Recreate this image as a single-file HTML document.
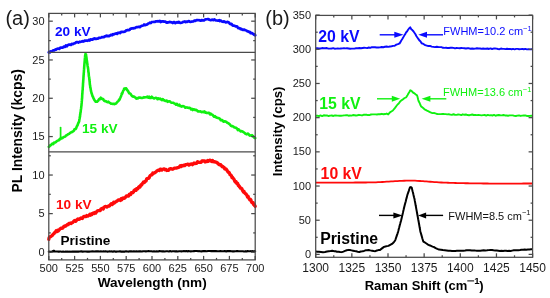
<!DOCTYPE html><html><head><meta charset="utf-8"><style>html,body{margin:0;padding:0;background:#fff;width:550px;height:298px;overflow:hidden}svg{display:block;will-change:transform}text{font-family:"Liberation Sans",sans-serif}</style></head><body><svg width="550" height="298" viewBox="0 0 550 298"><rect width="550" height="298" fill="#fff"/><g fill="none" stroke-linejoin="round" stroke-linecap="round"><path d="M48.80 52.39L49.28 51.99L49.89 52.35L50.63 51.37L51.45 51.60L52.33 51.05L53.25 50.32L54.17 50.50L55.07 49.58L55.92 49.72L56.70 48.98L57.59 48.66L58.46 48.71L59.30 48.86L60.12 47.69L60.94 47.48L61.75 47.66L62.57 47.73L63.40 46.99L64.24 46.49L65.08 46.91L65.91 45.53L66.75 46.25L67.59 45.31L68.42 44.89L69.26 44.60L70.10 44.57L70.93 44.91L71.75 43.88L72.56 44.10L73.37 43.90L74.20 43.31L75.04 43.26L75.91 42.42L76.80 42.17L77.55 42.15L78.32 42.53L79.12 42.04L79.93 41.71L80.75 41.85L81.57 41.51L82.38 41.15L83.18 41.58L83.95 41.30L84.70 40.59L85.59 40.80L86.46 40.57L87.30 40.83L88.13 40.50L88.94 39.82L89.75 40.50L90.57 39.31L91.40 39.50L92.24 39.74L93.08 38.85L93.91 39.09L94.75 38.38L95.59 38.96L96.42 38.90L97.26 38.48L98.10 38.65L98.92 37.77L99.71 38.02L100.49 37.68L101.27 37.43L102.08 37.05L102.92 37.28L103.82 37.17L104.80 36.37L105.52 36.44L106.29 35.54L107.12 36.14L107.99 35.90L108.87 36.14L109.76 35.76L110.64 34.94L111.49 34.89L112.31 35.06L113.08 34.12L113.78 34.50L114.40 34.00L115.59 33.64L116.47 33.30L117.18 33.91L117.85 32.90L118.60 32.80L119.44 32.71L120.28 33.03L121.12 31.82L121.96 32.01L122.80 31.86L123.64 31.99L124.48 31.63L125.33 31.40L126.17 30.42L127.00 30.30L127.85 29.94L128.70 30.27L129.55 30.06L130.36 28.82L131.10 28.61L132.11 28.41L132.98 28.22L134.00 28.28L134.76 28.20L135.59 27.59L136.46 27.03L137.34 27.27L138.20 26.94L139.04 26.90L139.88 27.06L140.72 26.44L141.56 25.92L142.40 25.74L143.24 25.52L144.08 24.49L144.92 25.23L145.76 24.81L146.60 24.65L147.44 24.28L148.28 23.52L149.12 23.26L149.96 22.65L150.80 23.06L151.64 22.18L152.48 22.01L153.33 22.02L154.17 21.83L155.00 21.91L155.81 21.43L156.61 21.25L157.41 21.32L158.23 21.17L159.10 21.44L159.85 21.02L160.62 22.05L161.41 21.76L162.23 21.25L163.09 21.43L164.00 21.62L164.71 21.71L165.45 21.50L166.20 22.48L166.98 22.75L167.79 22.23L168.62 22.34L169.49 21.95L170.40 22.02L171.16 22.34L171.95 22.28L172.78 22.97L173.62 22.19L174.48 22.03L175.35 23.14L176.22 22.62L177.09 22.14L177.96 22.59L178.80 21.93L179.65 22.48L180.52 22.94L181.40 22.72L182.29 22.42L183.17 21.79L184.03 21.81L184.86 21.46L185.66 22.09L186.41 21.71L187.10 21.93L188.10 21.30L188.93 21.11L189.67 21.76L190.38 21.92L191.14 21.70L192.00 21.57L192.71 21.51L193.45 21.34L194.20 20.64L194.98 20.90L195.79 20.62L196.62 20.13L197.49 20.03L198.40 20.24L199.16 20.12L199.95 20.54L200.78 20.75L201.62 20.03L202.48 20.51L203.35 20.47L204.22 20.33L205.09 19.54L205.96 19.31L206.80 19.27L207.65 19.22L208.52 19.22L209.40 19.73L210.29 20.09L211.17 20.05L212.03 19.66L212.86 19.92L213.66 20.15L214.41 19.35L215.10 20.09L216.14 20.50L217.06 20.48L217.88 20.58L218.63 20.40L219.33 20.19L220.00 21.05L221.06 20.69L221.91 21.42L223.00 21.87L223.73 21.34L224.55 21.52L225.43 22.37L226.33 22.32L227.23 21.91L228.10 22.15L228.94 22.53L229.77 23.83L230.61 24.14L231.44 23.80L232.27 25.06L233.10 25.68L233.93 25.71L234.76 25.77L235.59 26.44L236.43 26.36L237.26 26.63L238.10 28.17L238.95 28.14L239.80 28.34L240.65 29.15L241.50 28.87L242.35 29.72L243.20 29.99L244.02 29.57L244.80 29.92L245.58 30.28L246.39 30.53L247.25 31.30L248.20 31.31L248.93 31.82L249.76 31.85L250.64 33.19L251.56 32.94L252.46 33.48L253.31 34.03L254.08 34.77L254.72 34.48L255.20 35.30" stroke="#0a0aff" stroke-width="2.7"/><path d="M48.80 146.80L49.20 146.56L49.71 146.19L50.33 145.05L51.01 145.15L51.75 144.27L52.53 143.48L53.31 144.04L54.08 142.63L54.81 142.54L55.50 142.42L56.10 141.78L56.94 140.91L57.70 140.69L58.41 140.30L59.08 140.21L59.75 138.87L60.41 139.10L61.10 138.25L61.80 137.86L62.50 138.13L63.19 137.34L63.88 136.99L64.58 136.85L65.29 136.63L66.00 135.52L66.74 135.29L67.52 134.64L68.31 134.15L69.09 133.89L69.84 133.06L70.55 132.69L71.20 132.17L71.99 132.26L72.69 131.42L73.31 131.19L73.91 130.78L74.50 129.26L75.09 129.09L75.66 129.03L76.20 128.24L76.71 126.53L77.20 125.67L77.53 125.44L77.85 124.19L78.15 123.65L78.44 122.59L78.71 122.56L78.96 121.83L79.20 121.06L79.37 119.26L79.52 119.27L79.66 118.38L79.79 116.82L79.92 117.00L80.04 116.26L80.16 114.34L80.28 114.50L80.40 112.86L80.51 112.23L80.63 112.23L80.74 111.32L80.85 109.69L80.96 109.36L81.06 108.74L81.17 107.69L81.28 106.62L81.39 105.82L81.50 105.31L81.56 103.68L81.62 103.76L81.68 102.90L81.74 101.60L81.80 101.29L81.86 100.94L81.91 100.00L81.97 98.57L82.03 99.04L82.09 97.92L82.15 97.32L82.21 95.22L82.27 94.56L82.34 93.33L82.40 93.44L82.46 91.79L82.53 90.64L82.60 90.09L82.65 90.07L82.70 89.21L82.75 87.67L82.81 86.75L82.86 87.04L82.91 85.75L82.97 85.12L83.02 83.44L83.08 82.56L83.13 82.60L83.19 81.38L83.25 80.04L83.30 80.40L83.36 79.12L83.42 78.51L83.48 76.66L83.53 76.90L83.59 74.96L83.65 75.25L83.71 73.86L83.77 72.91L83.83 72.42L83.88 72.18L83.94 70.50L84.00 69.58L84.08 69.17L84.15 67.77L84.23 66.57L84.31 65.60L84.39 64.40L84.46 63.57L84.54 62.69L84.62 61.66L84.70 61.30L84.78 59.69L84.86 59.07L84.94 57.75L85.02 57.18L85.10 55.99L85.18 55.65L85.26 54.75L85.34 55.27L85.42 54.64L85.50 53.87L85.67 54.07L85.85 54.97L86.03 54.45L86.20 56.36L86.38 56.96L86.56 58.31L86.74 60.10L86.92 60.77L87.10 62.11L87.21 63.03L87.31 64.14L87.41 63.96L87.52 65.38L87.62 65.95L87.72 66.62L87.82 67.09L87.93 67.82L88.03 68.23L88.14 69.17L88.24 69.95L88.35 71.75L88.47 71.96L88.58 72.72L88.70 73.52L88.80 75.32L88.89 76.13L88.99 76.65L89.09 76.94L89.19 77.73L89.29 78.66L89.39 79.77L89.49 80.23L89.60 81.52L89.70 82.14L89.81 83.99L89.92 84.86L90.03 85.11L90.13 85.51L90.25 87.32L90.36 87.16L90.47 87.96L90.58 88.15L90.70 89.33L90.92 90.60L91.14 91.69L91.37 92.23L91.60 93.55L91.84 93.68L92.08 94.81L92.32 95.29L92.58 96.40L92.83 96.54L93.10 97.13L93.58 98.48L94.09 99.21L94.62 100.42L95.15 100.92L95.65 101.66L96.10 101.82L97.12 101.62L98.10 100.83L98.73 99.59L99.42 98.84L100.13 99.18L100.80 97.71L101.64 98.74L102.46 99.23L103.20 98.96L103.93 100.51L105.00 101.15L105.67 101.10L106.48 101.66L107.39 102.21L108.33 101.70L109.25 102.63L110.10 102.91L111.05 103.64L111.98 103.81L112.87 103.99L113.72 103.72L114.50 104.15L115.37 103.74L116.14 103.51L116.85 102.51L117.50 101.74L118.10 101.25L118.63 100.79L119.12 99.56L119.60 99.67L119.97 98.53L120.32 97.85L120.67 97.02L121.02 96.24L121.40 95.09L121.74 93.58L122.11 93.79L122.48 92.79L122.86 91.54L123.23 90.79L123.60 90.32L124.26 88.53L124.90 88.89L125.70 88.25L126.20 88.35L126.74 89.20L127.33 90.58L127.94 90.65L128.57 92.21L129.20 93.27L129.75 93.18L130.31 93.64L130.88 94.40L131.46 95.30L132.04 95.99L132.62 96.31L133.20 96.80L133.98 96.55L134.75 97.11L135.52 97.63L136.33 98.58L137.20 98.13L137.96 98.51L138.72 97.63L139.52 97.52L140.37 97.61L141.29 97.98L142.30 97.87L143.05 97.78L143.86 97.16L144.71 97.40L145.60 97.26L146.50 97.20L147.41 96.67L148.31 97.72L149.17 96.75L150.00 97.87L150.89 97.88L151.75 96.71L152.59 97.47L153.41 98.14L154.23 98.52L155.05 97.98L155.87 97.91L156.70 97.99L157.54 99.18L158.38 98.31L159.21 98.98L160.05 98.52L160.89 99.23L161.72 100.01L162.56 99.06L163.40 100.25L164.24 100.07L165.08 100.87L165.91 100.92L166.75 100.57L167.59 101.82L168.43 101.56L169.26 101.23L170.10 101.51L170.94 102.48L171.77 102.72L172.61 102.81L173.44 102.87L174.28 103.45L175.12 103.69L175.96 104.70L176.80 103.80L177.65 105.11L178.50 105.49L179.35 104.73L180.20 106.10L181.05 106.05L181.90 106.56L182.75 105.95L183.60 106.32L184.44 106.62L185.28 107.74L186.12 107.45L186.96 107.42L187.79 107.79L188.63 107.86L189.46 107.81L190.30 108.14L191.14 109.42L191.98 108.89L192.81 110.03L193.65 109.30L194.49 109.54L195.33 110.10L196.16 109.86L197.00 110.32L197.84 111.33L198.68 111.40L199.53 111.47L200.37 111.38L201.22 111.93L202.05 112.14L202.88 111.77L203.70 112.21L204.49 111.46L205.25 112.60L206.00 112.38L206.74 113.00L207.50 113.06L208.29 112.82L209.11 112.79L210.00 114.40L210.63 113.58L211.30 114.40L211.99 114.59L212.71 114.93L213.44 115.97L214.18 116.73L214.91 116.16L215.65 117.15L216.37 117.08L217.07 117.85L217.75 118.00L218.40 118.03L219.22 118.45L220.00 118.91L220.76 120.25L221.49 120.02L222.22 119.97L222.93 121.27L223.64 121.74L224.36 121.34L225.10 121.30L225.84 121.78L226.59 122.07L227.33 122.86L228.07 122.96L228.82 123.62L229.56 124.10L230.30 125.00L231.05 125.89L231.80 126.15L232.55 126.13L233.31 126.58L234.06 127.19L234.82 127.44L235.58 127.84L236.34 127.90L237.09 128.64L237.85 130.04L238.60 129.28L239.35 130.21L240.10 130.79L240.84 131.51L241.58 130.99L242.33 131.45L243.07 131.79L243.81 132.36L244.56 132.78L245.30 133.84L246.06 134.02L246.86 134.39L247.66 133.52L248.47 133.85L249.26 135.10L250.03 135.65L250.75 135.34L251.41 135.77L252.00 135.20L253.12 136.28L254.02 137.52L254.71 137.77L255.20 138.10" stroke="#10f010" stroke-width="2.6"/><path d="M60.6 138.5 L60.6 127.6" stroke="#10f010" stroke-width="1.7"/><path d="M48.80 239.26L49.15 237.74L49.59 237.04L50.11 236.55L50.70 236.51L51.33 236.10L52.00 235.82L52.69 234.78L53.37 233.99L54.05 233.57L54.70 232.53L55.41 232.15L56.13 230.83L56.87 231.55L57.62 230.22L58.37 230.89L59.13 230.03L59.89 229.06L60.65 228.35L61.40 228.10L62.15 228.27L62.91 227.91L63.66 226.52L64.42 226.01L65.18 226.28L65.94 225.93L66.69 225.18L67.45 224.48L68.20 224.66L68.95 223.29L69.70 223.34L70.44 223.18L71.18 223.56L71.93 222.65L72.67 222.64L73.41 221.60L74.16 220.84L74.90 220.50L75.64 221.29L76.39 220.55L77.13 219.60L77.88 218.83L78.62 219.29L79.37 219.28L80.11 218.57L80.86 218.01L81.60 218.37L82.34 218.48L83.09 217.06L83.83 216.45L84.58 216.63L85.32 216.47L86.07 216.59L86.81 215.52L87.56 216.17L88.30 215.78L89.04 215.11L89.79 214.35L90.53 215.29L91.28 213.95L92.02 214.48L92.77 213.24L93.51 212.92L94.26 213.46L95.00 212.37L95.74 213.05L96.49 211.93L97.23 211.03L97.98 210.67L98.72 210.55L99.47 210.51L100.21 210.54L100.96 208.84L101.70 208.83L102.44 208.15L103.19 208.98L103.93 207.27L104.67 206.75L105.42 206.38L106.16 206.54L106.90 206.98L107.65 206.59L108.40 205.97L109.15 206.03L109.91 205.55L110.66 204.22L111.42 203.63L112.18 204.47L112.94 203.80L113.69 202.29L114.45 202.93L115.20 202.11L115.95 201.73L116.70 201.29L117.44 200.65L118.18 200.01L118.93 200.08L119.67 199.81L120.41 200.40L121.16 198.69L121.90 199.64L122.64 198.05L123.39 197.91L124.13 198.28L124.88 197.91L125.62 196.91L126.37 195.90L127.11 196.16L127.86 195.56L128.60 195.97L129.28 194.35L129.97 194.14L130.67 194.48L131.38 192.56L132.07 192.63L132.76 192.73L133.44 192.12L134.09 190.44L134.71 189.93L135.30 189.50L136.06 190.27L136.73 188.66L137.35 188.94L137.95 188.68L138.57 187.24L139.24 186.53L140.00 186.93L140.53 185.88L141.10 184.78L141.68 184.93L142.29 183.69L142.91 183.01L143.54 181.95L144.18 182.51L144.82 182.13L145.45 181.04L146.08 180.92L146.70 178.84L147.31 178.57L147.92 178.33L148.52 178.46L149.13 177.82L149.74 176.27L150.35 175.43L150.96 175.10L151.57 174.62L152.18 174.76L152.79 173.06L153.40 173.58L154.15 172.96L154.91 172.63L155.66 172.11L156.42 171.46L157.18 170.66L157.94 170.33L158.69 170.13L159.45 170.56L160.20 169.23L161.04 169.25L161.88 170.06L162.72 169.24L163.56 168.97L164.39 168.96L165.23 169.82L166.06 169.46L166.90 170.47L167.74 170.24L168.58 170.32L169.41 169.07L170.25 168.67L171.09 168.57L171.93 169.06L172.76 169.23L173.60 168.62L174.44 168.04L175.28 168.04L176.11 168.06L176.95 167.81L177.79 167.59L178.62 167.42L179.46 166.83L180.30 165.69L181.15 166.61L182.02 165.51L182.90 165.74L183.78 165.24L184.63 165.65L185.47 164.62L186.26 164.54L187.00 164.39L188.04 164.07L188.93 165.14L189.77 164.56L190.66 164.03L191.70 163.93L192.44 164.69L193.23 163.68L194.06 162.97L194.92 163.61L195.79 163.07L196.67 163.34L197.54 161.67L198.40 162.06L199.26 162.44L200.16 162.34L201.07 162.34L201.97 160.83L202.85 161.14L203.69 160.78L204.48 160.80L205.20 161.96L206.20 161.16L207.06 161.54L207.82 160.49L208.52 161.15L209.20 160.42L210.08 160.06L210.83 160.96L212.00 161.61L212.57 160.49L213.21 161.54L213.91 161.89L214.67 161.59L215.45 162.20L216.25 162.23L217.05 162.75L217.84 163.26L218.60 164.26L219.27 164.76L219.97 164.49L220.67 164.65L221.37 165.64L222.07 166.70L222.76 166.43L223.43 167.15L224.09 167.49L224.71 168.96L225.30 169.08L225.98 168.94L226.60 169.63L227.19 170.73L227.74 171.62L228.29 172.42L228.84 172.21L229.40 173.03L230.00 174.61L230.49 174.76L230.98 175.17L231.48 175.84L231.97 177.52L232.47 177.15L232.99 178.23L233.51 178.59L234.06 179.39L234.62 180.83L235.20 181.79L235.67 181.38L236.15 181.73L236.64 183.21L237.15 183.02L237.67 183.37L238.19 185.47L238.72 185.38L239.25 186.69L239.79 186.71L240.32 188.14L240.85 188.13L241.38 188.31L241.90 188.72L242.42 190.22L242.93 190.99L243.45 192.05L243.96 191.36L244.48 192.83L245.00 193.05L245.51 193.88L246.03 193.92L246.55 194.76L247.06 195.76L247.57 197.03L248.09 196.35L248.60 197.58L249.13 198.74L249.69 199.70L250.27 199.19L250.85 199.81L251.45 201.86L252.03 202.65L252.60 202.59L253.15 202.59L253.66 204.63L254.13 204.37L254.55 205.72L254.91 205.73L255.20 206.42" stroke="#ff0a0a" stroke-width="3.3"/><path d="M48.80 251.66L50.26 251.88L52.00 251.49L53.16 250.99L54.20 250.74L52.77 251.18L56.50 251.47L57.15 251.50L57.81 251.58L58.50 251.64L59.21 251.59L59.95 251.49L60.71 251.55L61.50 251.74L62.31 251.81L63.15 251.47L64.02 251.68L64.92 251.76L65.86 251.47L66.82 251.79L67.81 251.50L68.84 251.69L69.91 251.66L71.01 251.69L72.14 251.55L73.32 251.59L74.53 251.65L75.78 251.58L77.08 251.67L78.41 251.58L79.79 251.56L81.21 251.39L82.68 251.62L84.19 251.56L85.74 251.45L87.35 251.65L89.00 251.65L90.71 251.52L92.46 251.40L94.27 251.51L96.12 251.35L98.03 251.36L100.00 251.47L100.88 251.33L101.77 251.47L102.69 251.50L103.64 251.31L104.60 251.54L105.58 251.32L106.58 251.57L107.60 251.59L108.64 251.48L109.70 251.29L110.78 251.47L111.87 251.41L112.98 251.64L114.10 251.31L115.24 251.60L116.40 251.65L117.57 251.54L118.75 251.57L119.95 251.31L121.16 251.63L122.38 251.43L123.62 251.61L124.86 251.59L126.12 251.28L127.39 251.53L128.66 251.58L129.95 251.23L131.24 251.34L132.54 251.50L133.85 251.25L135.17 251.54L136.49 251.29L137.82 251.50L139.15 251.23L140.49 251.37L141.83 251.53L143.18 251.24L144.53 251.26L145.88 251.35L147.23 251.27L148.59 251.15L149.95 251.21L151.31 251.20L152.66 251.50L154.02 251.39L155.38 251.48L156.73 251.18L158.09 251.42L159.44 251.15L160.78 251.31L162.13 251.35L163.47 251.24L164.80 251.44L166.13 251.31L167.45 251.31L168.77 251.43L170.08 251.11L171.38 251.46L172.68 251.32L173.96 251.22L175.24 251.38L176.51 251.16L177.77 251.45L179.02 251.28L180.25 251.19L181.48 251.34L182.69 251.21L183.89 251.10L185.08 251.33L186.25 251.05L187.41 251.35L188.55 251.12L189.68 251.27L190.79 251.41L191.89 251.25L192.97 251.28L194.03 251.13L195.07 251.01L196.10 251.02L197.10 251.06L198.09 251.25L199.05 251.17L200.00 251.21L201.68 251.36L203.34 251.05L204.99 251.09L206.61 251.26L208.22 251.00L209.82 251.00L211.39 251.14L212.95 251.04L214.49 251.14L216.00 251.09L217.50 251.23L218.98 251.24L220.44 251.08L221.88 251.25L223.30 251.20L224.69 251.06L226.07 251.39L227.42 251.11L228.75 251.08L230.06 251.06L231.35 251.28L232.61 251.38L233.85 251.34L235.07 251.20L236.26 251.14L237.43 251.05L238.57 251.30L239.69 251.27L240.78 251.19L241.85 251.32L242.89 251.24L243.91 251.44L244.90 251.36L245.86 251.17L246.80 251.44L247.70 251.10L248.58 251.29L249.44 251.25L250.26 251.18L251.05 251.11L251.82 251.40L252.56 251.10L253.26 251.32L253.94 251.47L254.58 251.16L255.20 251.18" stroke="#000" stroke-width="2.1"/></g><g stroke="#4a4a4a" fill="none" stroke-width="1.25"><rect x="48.80" y="13.40" width="206.40" height="246.50"/><line x1="48.80" y1="52.30" x2="255.20" y2="52.30"/><line x1="48.80" y1="151.90" x2="255.20" y2="151.90"/><line x1="48.80" y1="259.90" x2="48.80" y2="255.90"/><line x1="48.80" y1="13.40" x2="48.80" y2="17.40"/><line x1="61.70" y1="259.90" x2="61.70" y2="257.90"/><line x1="61.70" y1="13.40" x2="61.70" y2="15.40"/><line x1="74.60" y1="259.90" x2="74.60" y2="255.90"/><line x1="74.60" y1="13.40" x2="74.60" y2="17.40"/><line x1="87.50" y1="259.90" x2="87.50" y2="257.90"/><line x1="87.50" y1="13.40" x2="87.50" y2="15.40"/><line x1="100.40" y1="259.90" x2="100.40" y2="255.90"/><line x1="100.40" y1="13.40" x2="100.40" y2="17.40"/><line x1="113.30" y1="259.90" x2="113.30" y2="257.90"/><line x1="113.30" y1="13.40" x2="113.30" y2="15.40"/><line x1="126.20" y1="259.90" x2="126.20" y2="255.90"/><line x1="126.20" y1="13.40" x2="126.20" y2="17.40"/><line x1="139.10" y1="259.90" x2="139.10" y2="257.90"/><line x1="139.10" y1="13.40" x2="139.10" y2="15.40"/><line x1="152.00" y1="259.90" x2="152.00" y2="255.90"/><line x1="152.00" y1="13.40" x2="152.00" y2="17.40"/><line x1="164.90" y1="259.90" x2="164.90" y2="257.90"/><line x1="164.90" y1="13.40" x2="164.90" y2="15.40"/><line x1="177.80" y1="259.90" x2="177.80" y2="255.90"/><line x1="177.80" y1="13.40" x2="177.80" y2="17.40"/><line x1="190.70" y1="259.90" x2="190.70" y2="257.90"/><line x1="190.70" y1="13.40" x2="190.70" y2="15.40"/><line x1="203.60" y1="259.90" x2="203.60" y2="255.90"/><line x1="203.60" y1="13.40" x2="203.60" y2="17.40"/><line x1="216.50" y1="259.90" x2="216.50" y2="257.90"/><line x1="216.50" y1="13.40" x2="216.50" y2="15.40"/><line x1="229.40" y1="259.90" x2="229.40" y2="255.90"/><line x1="229.40" y1="13.40" x2="229.40" y2="17.40"/><line x1="242.30" y1="259.90" x2="242.30" y2="257.90"/><line x1="242.30" y1="13.40" x2="242.30" y2="15.40"/><line x1="255.20" y1="259.90" x2="255.20" y2="255.90"/><line x1="255.20" y1="13.40" x2="255.20" y2="17.40"/><line x1="48.80" y1="21.18" x2="52.80" y2="21.18"/><line x1="255.20" y1="21.18" x2="251.20" y2="21.18"/><line x1="48.80" y1="40.63" x2="50.80" y2="40.63"/><line x1="255.20" y1="40.63" x2="253.20" y2="40.63"/><line x1="48.80" y1="59.96" x2="52.80" y2="59.96"/><line x1="255.20" y1="59.96" x2="251.20" y2="59.96"/><line x1="48.80" y1="79.12" x2="50.80" y2="79.12"/><line x1="255.20" y1="79.12" x2="253.20" y2="79.12"/><line x1="48.80" y1="98.27" x2="52.80" y2="98.27"/><line x1="255.20" y1="98.27" x2="251.20" y2="98.27"/><line x1="48.80" y1="117.42" x2="50.80" y2="117.42"/><line x1="255.20" y1="117.42" x2="253.20" y2="117.42"/><line x1="48.80" y1="136.58" x2="52.80" y2="136.58"/><line x1="255.20" y1="136.58" x2="251.20" y2="136.58"/><line x1="48.80" y1="155.76" x2="50.80" y2="155.76"/><line x1="255.20" y1="155.76" x2="253.20" y2="155.76"/><line x1="48.80" y1="175.04" x2="52.80" y2="175.04"/><line x1="255.20" y1="175.04" x2="251.20" y2="175.04"/><line x1="48.80" y1="194.33" x2="50.80" y2="194.33"/><line x1="255.20" y1="194.33" x2="253.20" y2="194.33"/><line x1="48.80" y1="213.61" x2="52.80" y2="213.61"/><line x1="255.20" y1="213.61" x2="251.20" y2="213.61"/><line x1="48.80" y1="232.90" x2="50.80" y2="232.90"/><line x1="255.20" y1="232.90" x2="253.20" y2="232.90"/><line x1="48.80" y1="252.19" x2="52.80" y2="252.19"/><line x1="255.20" y1="252.19" x2="251.20" y2="252.19"/></g><g fill="none" stroke-linejoin="round"><path d="M315.70 48.28L317.29 48.23L318.88 48.34L320.47 48.49L322.06 48.06L323.64 48.18L325.23 48.19L326.82 48.04L328.41 48.65L330.00 48.60L331.55 48.57L333.10 48.09L334.65 48.69L336.20 48.64L337.75 48.46L339.30 48.67L340.85 48.48L342.40 48.34L343.95 48.27L345.50 48.38L347.05 48.26L348.60 48.48L350.15 48.70L351.71 48.60L353.26 48.63L354.81 48.47L356.36 48.08L357.92 48.21L359.47 48.06L361.02 48.24L362.58 47.98L364.13 47.73L365.68 47.92L367.24 48.08L368.79 47.48L370.34 47.88L371.89 47.20L373.45 47.30L375.00 47.22L376.67 47.49L378.33 47.54L380.00 47.32L381.67 46.95L383.33 47.25L385.00 46.78L386.67 46.55L388.33 46.85L390.00 46.49L391.57 46.20L393.13 45.85L394.70 45.74L396.33 44.65L397.97 44.17L399.60 43.34L400.45 42.10L401.30 40.46L402.15 39.31L403.00 37.85L403.80 36.35L404.60 34.96L405.40 33.93L406.20 32.22L407.00 31.49L408.07 29.75L409.13 28.47L410.20 27.32L411.27 29.20L412.33 30.09L413.40 31.25L414.42 32.70L415.45 34.23L416.48 36.21L417.50 37.69L418.52 39.14L419.55 40.57L420.58 41.50L421.60 43.26L423.40 43.95L425.20 45.12L426.80 45.56L428.40 46.04L430.00 45.90L431.67 46.66L433.33 46.89L435.00 47.11L436.67 46.72L438.33 46.99L440.00 47.13L441.50 47.15L443.00 47.80L444.50 47.86L446.00 47.81L447.50 48.03L449.00 47.97L450.50 47.81L452.00 47.76L453.50 47.84L455.00 48.38L456.56 48.02L458.12 48.12L459.69 48.22L461.25 47.96L462.81 48.15L464.38 48.20L465.94 48.53L467.50 48.31L469.06 48.30L470.62 48.77L472.19 48.48L473.75 48.75L475.31 48.61L476.88 48.22L478.44 48.51L480.00 48.56L481.50 48.81L483.00 48.53L484.50 48.80L486.00 48.71L487.50 48.50L489.00 48.97L490.50 48.45L492.00 48.98L493.50 48.55L495.00 48.45L496.50 48.61L498.00 49.02L499.50 49.19L501.00 48.53L502.50 48.89L504.00 48.91L505.50 49.15L507.00 48.74L508.50 48.98L510.00 48.89L511.53 49.25L513.07 48.86L514.60 49.35L516.13 48.90L517.67 48.87L519.20 49.22L520.73 49.09L522.27 48.83L523.80 49.22L525.33 48.84L526.87 49.35L528.40 49.30L529.93 49.37L531.47 49.28L533.00 49.10" stroke="#0a0aff" stroke-width="1.9"/><path d="M315.70 115.71L317.31 115.69L318.92 116.12L320.52 115.38L322.13 116.08L323.74 115.29L325.35 115.44L326.96 115.47L328.57 116.03L330.18 115.65L331.78 115.52L333.39 115.96L335.00 115.36L336.50 115.54L338.00 115.59L339.50 115.77L341.00 115.75L342.50 115.63L344.00 115.34L345.50 115.30L347.00 115.13L348.50 115.73L350.00 115.55L351.50 115.58L353.00 115.02L354.50 115.22L356.00 115.49L357.50 115.27L359.00 114.82L360.50 115.09L362.00 115.43L363.50 114.80L365.00 114.72L366.50 114.76L368.00 115.06L369.50 115.13L371.00 114.45L372.50 114.39L374.00 114.41L375.50 114.42L377.00 114.54L378.50 114.15L380.00 114.25L381.75 113.82L383.50 114.23L385.07 114.07L386.63 113.57L388.20 114.42L389.95 112.34L391.70 111.30L392.88 110.51L394.05 109.02L395.22 107.63L396.40 106.04L397.57 104.50L398.75 103.57L399.93 101.77L401.10 100.54L402.67 99.63L404.23 98.25L405.80 97.51L406.65 96.56L407.50 95.17L408.43 93.43L409.37 91.99L410.30 90.27L411.53 90.94L412.77 92.33L414.00 93.11L415.50 94.32L417.00 95.37L417.43 96.54L417.85 98.27L418.27 100.02L418.70 101.33L419.50 102.72L420.30 104.73L421.10 106.44L422.27 107.35L423.43 108.28L424.60 109.42L426.08 110.14L427.55 110.98L429.02 111.68L430.50 112.43L432.43 113.12L434.37 113.04L436.30 113.73L437.86 114.12L439.42 114.13L440.98 114.12L442.53 113.84L444.09 114.06L445.65 114.16L447.21 114.38L448.77 114.25L450.32 114.56L451.88 114.85L453.44 114.25L455.00 114.74L456.56 114.88L458.12 114.55L459.69 114.67L461.25 115.13L462.81 114.31L464.38 114.79L465.94 114.47L467.50 115.05L469.06 115.22L470.62 114.87L472.19 114.52L473.75 114.97L475.31 114.96L476.88 115.15L478.44 114.99L480.00 115.13L481.56 115.33L483.12 115.08L484.69 115.01L486.25 115.53L487.81 114.90L489.38 115.35L490.94 115.12L492.50 115.49L494.06 114.94L495.62 115.75L497.19 115.21L498.75 114.98L500.31 115.20L501.88 115.35L503.44 115.03L505.00 115.43L506.56 115.45L508.11 115.71L509.67 115.42L511.22 115.36L512.78 115.34L514.33 115.82L515.89 116.01L517.44 115.66L519.00 115.40L520.56 115.94L522.11 115.59L523.67 115.44L525.22 115.38L526.78 115.98L528.33 116.03L529.89 115.89L531.44 115.76L533.00 115.86" stroke="#10f010" stroke-width="1.9"/><path d="M315.70 182.60L316.82 182.60L318.17 182.60L319.72 182.59L321.44 182.59L323.33 182.59L325.35 182.58L327.50 182.58L329.74 182.58L332.06 182.57L334.44 182.57L336.85 182.56L339.28 182.56L341.71 182.55L344.11 182.55L346.47 182.54L348.76 182.54L350.97 182.53L353.07 182.53L355.04 182.52L356.87 182.51L358.53 182.51L360.00 182.50L363.33 182.49L365.92 182.48L367.94 182.47L369.58 182.46L371.02 182.45L372.45 182.42L374.05 182.37L376.00 182.30L378.00 182.21L380.10 182.11L382.26 181.98L384.46 181.85L386.67 181.70L388.85 181.56L390.99 181.43L393.05 181.31L395.00 181.20L397.40 181.08L399.72 180.96L401.97 180.86L404.13 180.76L406.20 180.68L408.15 180.63L410.00 180.60L412.06 180.60L413.58 180.63L415.07 180.70L417.04 180.82L420.00 181.00L421.45 181.09L423.01 181.20L424.67 181.32L426.44 181.46L428.30 181.60L430.26 181.75L432.30 181.90L434.43 182.05L436.64 182.20L438.93 182.34L441.29 182.48L443.71 182.60L446.20 182.70L447.95 182.76L449.75 182.83L451.59 182.89L453.48 182.94L455.41 183.00L457.38 183.05L459.38 183.10L461.42 183.14L463.50 183.19L465.60 183.23L467.73 183.27L469.89 183.30L472.07 183.34L474.27 183.37L476.49 183.40L478.72 183.43L480.97 183.45L483.23 183.48L485.50 183.50L487.44 183.52L489.48 183.53L491.61 183.54L493.82 183.55L496.09 183.55L498.42 183.56L500.78 183.56L503.16 183.56L505.56 183.56L507.95 183.56L510.33 183.55L512.67 183.55L514.98 183.54L517.22 183.54L519.39 183.53L521.48 183.53L523.47 183.52L525.35 183.51L527.11 183.51L528.72 183.51L530.18 183.50L531.48 183.50L532.60 183.50" stroke="#ff0a0a" stroke-width="1.8"/><path d="M315.70 251.42L317.35 251.84L319.00 251.86L321.00 252.09L323.00 252.30L325.00 251.99L327.00 251.59L328.80 251.27L330.60 251.08L332.40 250.69L333.93 251.17L335.47 251.29L337.00 251.71L338.60 251.73L340.20 251.96L341.80 252.13L343.40 251.58L345.00 250.91L346.75 250.25L348.50 249.87L350.00 250.07L351.50 250.39L353.00 250.74L354.57 251.07L356.15 251.33L357.73 251.67L359.30 251.95L360.87 251.49L362.43 251.30L364.00 250.91L365.53 250.33L367.07 250.23L368.60 249.92L370.30 250.39L372.00 250.69L373.65 251.05L375.30 251.14L376.87 250.52L378.43 250.09L380.00 249.94L381.33 248.91L382.67 247.86L384.00 246.88L385.47 246.49L386.93 246.12L388.40 245.88L390.20 244.85L392.00 243.90L393.03 242.99L394.07 241.82L395.10 240.50L395.58 239.28L396.07 237.77L396.55 236.38L397.03 234.92L397.52 233.55L398.00 232.09L398.42 230.50L398.84 228.71L399.27 227.26L399.69 225.61L400.11 224.07L400.53 222.38L400.96 220.91L401.38 219.22L401.80 217.53L402.19 215.86L402.57 214.18L402.96 212.63L403.34 210.84L403.73 209.30L404.11 207.55L404.50 206.00L404.93 204.36L405.36 202.73L405.79 201.18L406.21 199.28L406.64 197.89L407.07 196.13L407.50 194.52L408.10 192.80L408.70 191.10L409.30 189.21L409.90 187.48L410.80 187.04L411.80 187.87L412.19 189.61L412.57 191.18L412.96 192.57L413.34 194.32L413.73 195.91L414.11 197.56L414.50 198.95L414.78 200.69L415.07 202.10L415.35 203.65L415.63 205.32L415.92 206.61L416.20 208.37L416.48 209.89L416.77 211.35L417.05 213.06L417.33 214.46L417.62 216.04L417.90 217.61L418.19 219.28L418.48 220.71L418.77 222.38L419.06 223.98L419.34 225.62L419.63 227.30L419.92 228.74L420.21 230.50L420.50 231.97L420.97 233.58L421.43 235.10L421.90 236.75L422.37 238.48L422.83 239.96L423.30 241.59L424.87 242.48L426.43 243.51L428.00 244.54L429.50 245.28L431.00 245.94L432.50 246.64L434.00 247.06L435.67 248.07L437.33 248.92L439.00 249.61L440.93 249.73L442.87 250.07L444.80 250.25L446.60 250.43L448.40 250.78L450.20 250.81L452.00 250.95L453.64 250.97L455.28 250.98L456.92 250.87L458.56 250.86L460.20 250.84L461.83 250.76L463.47 250.63L465.10 250.55L466.73 250.31L468.37 250.35L470.00 250.19L471.75 250.43L473.50 250.38L475.25 250.55L477.00 250.66L478.68 250.78L480.35 250.72L482.02 250.55L483.70 250.36L485.38 250.40L487.05 250.29L488.72 250.12L490.40 249.93L492.00 250.09L493.60 250.28L495.20 250.40L496.80 250.58L498.40 250.79L500.00 251.03L501.51 250.75L503.03 250.89L504.54 250.72L506.06 250.73L507.57 250.92L509.09 250.84L510.60 250.93L512.17 250.63L513.73 250.35L515.30 250.32L516.87 250.23L518.43 250.18L520.00 250.04L521.58 249.83L523.15 249.75L524.73 249.59L526.30 249.69L527.88 249.50L529.45 249.42L531.02 249.32L532.60 249.25" stroke="#000" stroke-width="2.0"/></g><g stroke="#4a4a4a" fill="none" stroke-width="1.25"><rect x="315.70" y="15.40" width="216.90" height="241.90"/><line x1="315.70" y1="257.30" x2="315.70" y2="253.30"/><line x1="315.70" y1="15.40" x2="315.70" y2="19.40"/><line x1="333.77" y1="257.30" x2="333.77" y2="255.30"/><line x1="333.77" y1="15.40" x2="333.77" y2="17.40"/><line x1="351.85" y1="257.30" x2="351.85" y2="253.30"/><line x1="351.85" y1="15.40" x2="351.85" y2="19.40"/><line x1="369.93" y1="257.30" x2="369.93" y2="255.30"/><line x1="369.93" y1="15.40" x2="369.93" y2="17.40"/><line x1="388.00" y1="257.30" x2="388.00" y2="253.30"/><line x1="388.00" y1="15.40" x2="388.00" y2="19.40"/><line x1="406.07" y1="257.30" x2="406.07" y2="255.30"/><line x1="406.07" y1="15.40" x2="406.07" y2="17.40"/><line x1="424.15" y1="257.30" x2="424.15" y2="253.30"/><line x1="424.15" y1="15.40" x2="424.15" y2="19.40"/><line x1="442.23" y1="257.30" x2="442.23" y2="255.30"/><line x1="442.23" y1="15.40" x2="442.23" y2="17.40"/><line x1="460.30" y1="257.30" x2="460.30" y2="253.30"/><line x1="460.30" y1="15.40" x2="460.30" y2="19.40"/><line x1="478.38" y1="257.30" x2="478.38" y2="255.30"/><line x1="478.38" y1="15.40" x2="478.38" y2="17.40"/><line x1="496.45" y1="257.30" x2="496.45" y2="253.30"/><line x1="496.45" y1="15.40" x2="496.45" y2="19.40"/><line x1="514.52" y1="257.30" x2="514.52" y2="255.30"/><line x1="514.52" y1="15.40" x2="514.52" y2="17.40"/><line x1="532.60" y1="257.30" x2="532.60" y2="253.30"/><line x1="532.60" y1="15.40" x2="532.60" y2="19.40"/><line x1="315.70" y1="254.40" x2="319.70" y2="254.40"/><line x1="532.60" y1="254.40" x2="528.60" y2="254.40"/><line x1="315.70" y1="237.31" x2="317.70" y2="237.31"/><line x1="532.60" y1="237.31" x2="530.60" y2="237.31"/><line x1="315.70" y1="220.22" x2="319.70" y2="220.22"/><line x1="532.60" y1="220.22" x2="528.60" y2="220.22"/><line x1="315.70" y1="203.12" x2="317.70" y2="203.12"/><line x1="532.60" y1="203.12" x2="530.60" y2="203.12"/><line x1="315.70" y1="186.03" x2="319.70" y2="186.03"/><line x1="532.60" y1="186.03" x2="528.60" y2="186.03"/><line x1="315.70" y1="168.94" x2="317.70" y2="168.94"/><line x1="532.60" y1="168.94" x2="530.60" y2="168.94"/><line x1="315.70" y1="151.85" x2="319.70" y2="151.85"/><line x1="532.60" y1="151.85" x2="528.60" y2="151.85"/><line x1="315.70" y1="134.75" x2="317.70" y2="134.75"/><line x1="532.60" y1="134.75" x2="530.60" y2="134.75"/><line x1="315.70" y1="117.66" x2="319.70" y2="117.66"/><line x1="532.60" y1="117.66" x2="528.60" y2="117.66"/><line x1="315.70" y1="100.57" x2="317.70" y2="100.57"/><line x1="532.60" y1="100.57" x2="530.60" y2="100.57"/><line x1="315.70" y1="83.48" x2="319.70" y2="83.48"/><line x1="532.60" y1="83.48" x2="528.60" y2="83.48"/><line x1="315.70" y1="66.38" x2="317.70" y2="66.38"/><line x1="532.60" y1="66.38" x2="530.60" y2="66.38"/><line x1="315.70" y1="49.29" x2="319.70" y2="49.29"/><line x1="532.60" y1="49.29" x2="528.60" y2="49.29"/><line x1="315.70" y1="32.20" x2="317.70" y2="32.20"/><line x1="532.60" y1="32.20" x2="530.60" y2="32.20"/><line x1="315.70" y1="15.11" x2="319.70" y2="15.11"/><line x1="532.60" y1="15.11" x2="528.60" y2="15.11"/></g><line x1="379.70" y1="34.80" x2="395.30" y2="34.80" stroke="#0a0aff" stroke-width="1.4"/><path d="M403.50 34.80 L394.30 31.80 L394.30 37.80 Z" fill="#0a0aff"/><line x1="443.00" y1="34.80" x2="426.00" y2="34.80" stroke="#0a0aff" stroke-width="1.4"/><path d="M418.30 34.80 L427.00 31.80 L427.00 37.80 Z" fill="#0a0aff"/><line x1="377.00" y1="98.80" x2="392.80" y2="98.80" stroke="#10f010" stroke-width="1.4"/><path d="M400.20 98.80 L391.80 95.80 L391.80 101.80 Z" fill="#10f010"/><line x1="446.30" y1="98.80" x2="429.40" y2="98.80" stroke="#10f010" stroke-width="1.4"/><path d="M421.60 98.80 L430.40 95.80 L430.40 101.80 Z" fill="#10f010"/><line x1="379.00" y1="215.40" x2="394.40" y2="215.40" stroke="#000" stroke-width="1.4"/><path d="M402.60 215.40 L393.40 212.40 L393.40 218.40 Z" fill="#000"/><line x1="443.10" y1="215.40" x2="425.10" y2="215.40" stroke="#000" stroke-width="1.4"/><path d="M418.20 215.40 L426.10 212.40 L426.10 218.40 Z" fill="#000"/><text x="48.80" y="272.20" font-size="11.00" fill="#1a1a1a" text-anchor="middle" font-weight="normal" >500</text><text x="74.60" y="272.20" font-size="11.00" fill="#1a1a1a" text-anchor="middle" font-weight="normal" >525</text><text x="100.40" y="272.20" font-size="11.00" fill="#1a1a1a" text-anchor="middle" font-weight="normal" >550</text><text x="126.20" y="272.20" font-size="11.00" fill="#1a1a1a" text-anchor="middle" font-weight="normal" >575</text><text x="152.00" y="272.20" font-size="11.00" fill="#1a1a1a" text-anchor="middle" font-weight="normal" >600</text><text x="177.80" y="272.20" font-size="11.00" fill="#1a1a1a" text-anchor="middle" font-weight="normal" >625</text><text x="203.60" y="272.20" font-size="11.00" fill="#1a1a1a" text-anchor="middle" font-weight="normal" >650</text><text x="229.40" y="272.20" font-size="11.00" fill="#1a1a1a" text-anchor="middle" font-weight="normal" >675</text><text x="255.20" y="272.20" font-size="11.00" fill="#1a1a1a" text-anchor="middle" font-weight="normal" >700</text><text x="44.60" y="24.98" font-size="11.00" fill="#1a1a1a" text-anchor="end" font-weight="normal" >30</text><text x="44.60" y="63.76" font-size="11.00" fill="#1a1a1a" text-anchor="end" font-weight="normal" >25</text><text x="44.60" y="102.07" font-size="11.00" fill="#1a1a1a" text-anchor="end" font-weight="normal" >20</text><text x="44.60" y="140.38" font-size="11.00" fill="#1a1a1a" text-anchor="end" font-weight="normal" >15</text><text x="44.60" y="178.84" font-size="11.00" fill="#1a1a1a" text-anchor="end" font-weight="normal" >10</text><text x="44.60" y="217.41" font-size="11.00" fill="#1a1a1a" text-anchor="end" font-weight="normal" >5</text><text x="44.60" y="255.99" font-size="11.00" fill="#1a1a1a" text-anchor="end" font-weight="normal" >0</text><text x="315.70" y="271.70" font-size="12.00" fill="#1a1a1a" text-anchor="middle" font-weight="normal" >1300</text><text x="351.85" y="271.70" font-size="12.00" fill="#1a1a1a" text-anchor="middle" font-weight="normal" >1325</text><text x="388.00" y="271.70" font-size="12.00" fill="#1a1a1a" text-anchor="middle" font-weight="normal" >1350</text><text x="424.15" y="271.70" font-size="12.00" fill="#1a1a1a" text-anchor="middle" font-weight="normal" >1375</text><text x="460.30" y="271.70" font-size="12.00" fill="#1a1a1a" text-anchor="middle" font-weight="normal" >1400</text><text x="496.45" y="271.70" font-size="12.00" fill="#1a1a1a" text-anchor="middle" font-weight="normal" >1425</text><text x="532.60" y="271.70" font-size="12.00" fill="#1a1a1a" text-anchor="middle" font-weight="normal" >1450</text><text x="311.00" y="258.00" font-size="11.00" fill="#1a1a1a" text-anchor="end" font-weight="normal" >0</text><text x="311.00" y="223.81" font-size="11.00" fill="#1a1a1a" text-anchor="end" font-weight="normal" >50</text><text x="311.00" y="189.63" font-size="11.00" fill="#1a1a1a" text-anchor="end" font-weight="normal" >100</text><text x="311.00" y="155.45" font-size="11.00" fill="#1a1a1a" text-anchor="end" font-weight="normal" >150</text><text x="311.00" y="121.26" font-size="11.00" fill="#1a1a1a" text-anchor="end" font-weight="normal" >200</text><text x="311.00" y="87.08" font-size="11.00" fill="#1a1a1a" text-anchor="end" font-weight="normal" >250</text><text x="311.00" y="52.89" font-size="11.00" fill="#1a1a1a" text-anchor="end" font-weight="normal" >300</text><text x="311.00" y="18.71" font-size="11.00" fill="#1a1a1a" text-anchor="end" font-weight="normal" >350</text><text x="152.20" y="287.00" font-size="13.60" fill="#000" text-anchor="middle" font-weight="bold" >Wavelength (nm)</text><text transform="translate(21.7 130.85) rotate(-90)" x="0" y="0" font-size="13.9" fill="#000" text-anchor="middle" font-weight="bold">PL Intensity (kcps)</text><text transform="translate(282.3 131.4) rotate(-90)" x="0" y="0" font-size="13.25" fill="#000" text-anchor="middle" font-weight="bold">Intensity (cps)</text><text x="364.7" y="289.9" font-size="13" fill="#000" font-weight="bold">Raman Shift (cm</text><rect x="467.3" y="280.4" width="6.8" height="1.0" fill="#000"/><text x="474.2" y="284.4" font-size="9.6" font-weight="bold" fill="#000">1</text><text x="479.3" y="289.9" font-size="13" fill="#000" font-weight="bold">)</text><text x="5.40" y="25.40" font-size="20.00" fill="#1a1a1a" text-anchor="start" font-weight="normal" >(a)</text><text x="265.30" y="25.40" font-size="20.00" fill="#1a1a1a" text-anchor="start" font-weight="normal" >(b)</text><text x="55.00" y="36.00" font-size="13.60" fill="#0a0aff" text-anchor="start" font-weight="bold" >20 kV</text><text x="82.00" y="133.20" font-size="13.60" fill="#10f010" text-anchor="start" font-weight="bold" >15 kV</text><text x="56.00" y="208.50" font-size="13.60" fill="#ff0a0a" text-anchor="start" font-weight="bold" >10 kV</text><text x="60.50" y="245.20" font-size="13.60" fill="#000" text-anchor="start" font-weight="bold" >Pristine</text><text x="318.30" y="42.20" font-size="15.80" fill="#0a0aff" text-anchor="start" font-weight="bold" >20 kV</text><text x="319.30" y="109.10" font-size="15.80" fill="#10f010" text-anchor="start" font-weight="bold" >15 kV</text><text x="320.60" y="178.80" font-size="15.80" fill="#ff0a0a" text-anchor="start" font-weight="bold" >10 kV</text><text x="320.20" y="243.90" font-size="15.80" fill="#000" text-anchor="start" font-weight="bold" >Pristine</text><text x="443.30" y="35.00" font-size="11" fill="#0a0aff">FWHM=10.2 cm<tspan font-size="7.5" dy="-4.5">&#8722;1</tspan></text><text x="443.00" y="96.00" font-size="11" fill="#10f010">FWHM=13.6 cm<tspan font-size="7.5" dy="-4.5">&#8722;1</tspan></text><text x="448.30" y="219.70" font-size="11" fill="#111">FWHM=8.5 cm<tspan font-size="7.5" dy="-4.5">&#8722;1</tspan></text></svg></body></html>
